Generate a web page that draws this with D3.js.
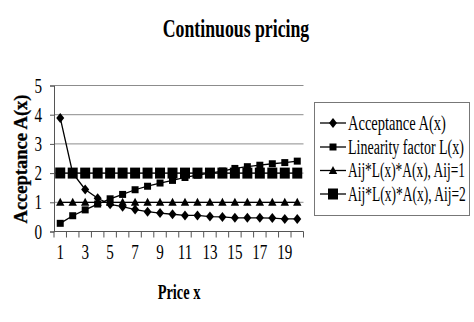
<!DOCTYPE html>
<html>
<head>
<meta charset="utf-8">
<script src="https://cdn.jsdelivr.net/npm/d3@7"></script>
<style>
  html, body { margin: 0; padding: 0; background: #fff; }
  svg { display: block; }
  text { font-family: "Liberation Serif", "Times New Roman", serif; fill: #000; }
</style>
</head>
<body>
<svg id="chart" width="474" height="322"></svg>
<script>
// Price points 1..20
const prices = d3.range(1, 21);
const xTickLabels = ["1", "3", "5", "7", "9", "11", "13", "15", "17", "19"];
const yTicks = [0, 1, 2, 3, 4, 5];

// Series values
const acceptance = [3.89, 2.0, 1.44, 1.14, 0.93, 0.85, 0.75, 0.68, 0.63, 0.59,
                    0.55, 0.55, 0.51, 0.50, 0.47, 0.47, 0.47, 0.46, 0.43, 0.43];
const linearity  = [0.28, 0.54, 0.74, 0.94, 1.12, 1.27, 1.43, 1.55, 1.66, 1.75,
                    1.85, 1.93, 2.00, 2.07, 2.16, 2.22, 2.27, 2.32, 2.36, 2.41];
const aij1 = [1, 1, 1, 1, 1, 1, 1, 1, 1, 1, 1, 1, 1, 1, 1, 1, 1, 1, 1, 1];
const aij2 = [2, 2, 2, 2, 2, 2, 2, 2, 2, 2, 2, 2, 2, 2, 2, 2, 2, 2, 2, 2];

const seriesNames = ["Acceptance A(x)", "Linearity factor L(x)",
                     "Aij*L(x)*A(x), Aij=1", "Aij*L(x)*A(x), Aij=2"];

const svg = d3.select("#chart");
const plot = { left: 54, right: 303.5, top: 85.5, bottom: 231.5 };
const condense = 0.72;

const x = d3.scaleBand().domain(prices).range([plot.left, plot.right]);
const y = d3.scaleLinear().domain([0, 5]).range([plot.bottom, plot.top]);

// Text helper: narrow serif text; optional fit to a target width
function label(parent, tx, ty, str, opts = {}) {
  const g = parent.append("g");
  const t = g.append("text")
    .attr("text-anchor", opts.anchor || "start")
    .attr("font-size", opts.size || 20)
    .attr("font-weight", opts.bold ? "bold" : "normal")
    .text(str);
  let sx = opts.sx ?? condense;
  if (opts.fitWidth) sx = opts.fitWidth / t.node().getComputedTextLength();
  g.attr("transform", `translate(${tx},${ty}) scale(${sx},1)`);
  return t;
}

// Marker shapes
const markers = {
  diamond: (cx, cy) => `M${cx},${cy - 5}L${cx + 4},${cy}L${cx},${cy + 5}L${cx - 4},${cy}Z`,
  square: (cx, cy) => `M${cx - 3.5},${cy - 3.5}h7v7h-7Z`,
  triangle: (cx, cy) => `M${cx},${cy - 4.5}L${cx + 4.2},${cy + 3.5}L${cx - 4.2},${cy + 3.5}Z`,
  bigSquare: (cx, cy) => `M${cx - 5},${cy - 5.5}h10v11h-10Z`
};

// Title
label(svg, 236, 37, "Continuous pricing", { anchor: "middle", size: 25, bold: true, sx: 0.71 });

// Gridlines
svg.append("g").selectAll("line").data(yTicks.filter(d => d > 0)).join("line")
  .attr("x1", plot.left).attr("x2", plot.right)
  .attr("y1", d => y(d)).attr("y2", d => y(d))
  .attr("stroke", "#8c8c8c").attr("stroke-width", 1);

// Y axis
const yAxis = svg.append("g").attr("transform", `translate(${plot.left},0)`)
  .call(d3.axisLeft(y).tickValues(yTicks).tickSize(4).tickFormat(""));
yAxis.select(".domain").attr("stroke", "#555");
yAxis.selectAll(".tick line").attr("stroke", "#555");
yTicks.forEach(v => label(svg, 42, y(v) + 7, String(v), { anchor: "end", size: 21 }));

// X axis with ticks on category boundaries
svg.append("line")
  .attr("x1", plot.left).attr("x2", plot.right)
  .attr("y1", plot.bottom).attr("y2", plot.bottom)
  .attr("stroke", "#555");
const bounds = prices.map(p => x(p)).concat([plot.right]);
svg.append("g").selectAll("line").data(bounds).join("line")
  .attr("x1", d => d).attr("x2", d => d)
  .attr("y1", plot.bottom).attr("y2", plot.bottom + 6)
  .attr("stroke", "#555");
xTickLabels.forEach(s => {
  const p = +s;
  label(svg, x(p) + x.bandwidth() / 2, 259, s, { anchor: "middle", size: 21 });
});

// Axis titles
label(svg, 179, 299, "Price x", { anchor: "middle", size: 20, bold: true });
svg.append("text")
  .attr("transform", "translate(27,159) rotate(-90)")
  .attr("text-anchor", "middle")
  .attr("font-size", 18.5).attr("font-weight", "bold")
  .attr("stroke", "#000").attr("stroke-width", 0.3)
  .text("Acceptance A(x)");

// Series
const cx = p => x(p) + x.bandwidth() / 2;
const series = [
  { name: seriesNames[0], values: acceptance, marker: "diamond", width: 98 },
  { name: seriesNames[1], values: linearity, marker: "square", width: 116 },
  { name: seriesNames[2], values: aij1, marker: "triangle", width: 117 },
  { name: seriesNames[3], values: aij2, marker: "bigSquare", width: 118 }
];
const line = d3.line().x((d, i) => cx(prices[i])).y(d => y(d));

series.forEach(s => {
  const g = svg.append("g");
  g.append("path").attr("d", line(s.values))
    .attr("fill", "none").attr("stroke", "#000").attr("stroke-width", 1.3);
  g.selectAll("path.m").data(s.values).join("path").attr("class", "m")
    .attr("d", (d, i) => markers[s.marker](cx(prices[i]), y(d)))
    .attr("fill", "#000");
});

// Legend
const legend = svg.append("g");
legend.append("rect")
  .attr("x", 314.5).attr("y", 102.5).attr("width", 155).attr("height", 113)
  .attr("fill", "#fff").attr("stroke", "#777");
const legendY = [123, 147, 170.5, 194];
series.forEach((s, i) => {
  const ly = legendY[i];
  legend.append("line").attr("x1", 320).attr("x2", 346).attr("y1", ly).attr("y2", ly)
    .attr("stroke", "#000").attr("stroke-width", 1.3);
  legend.append("path").attr("d", markers[s.marker](333, ly)).attr("fill", "#000");
  label(legend, 348, ly + 6.5, s.name, { size: 20, fitWidth: s.width });
});
</script>
</body>
</html>
